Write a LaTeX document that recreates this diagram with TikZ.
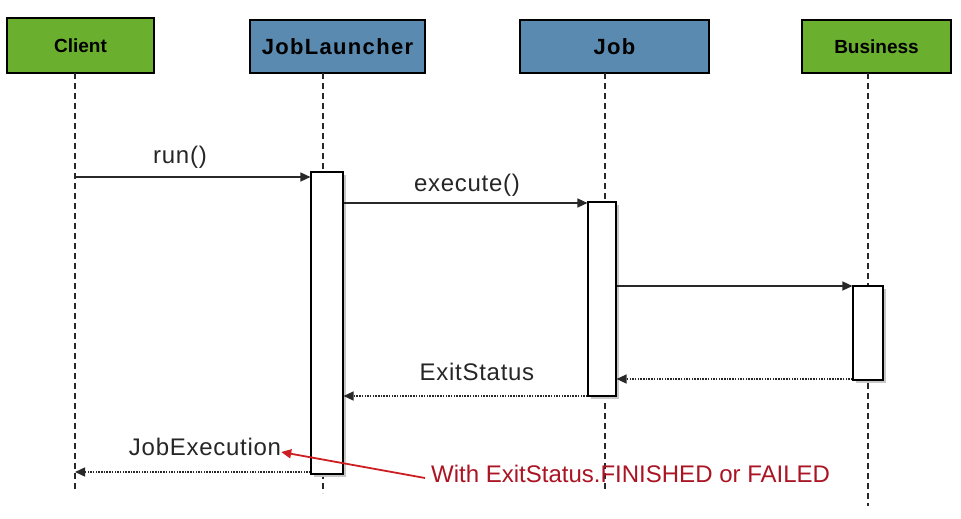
\documentclass[tikz,border=0pt]{standalone}
\usepackage{fontspec}
\setmainfont{Liberation Sans}
\usetikzlibrary{arrows.meta}
\definecolor{hgreen}{RGB}{106,176,46}
\definecolor{hblue}{RGB}{90,138,176}
\definecolor{ared}{RGB}{205,30,35}
\definecolor{tred}{RGB}{170,20,35}
\definecolor{lgray}{RGB}{40,40,40}
\begin{document}
\begin{tikzpicture}[x=1pt,y=-1pt,
  head/.style={draw=black,line width=1.2pt,inner sep=0pt,font=\fontsize{19}{22}\selectfont\bfseries},
  headwide/.style={head,font=\fontsize{22}{24}\selectfont\bfseries\addfontfeature{LetterSpace=6}},
  life/.style={draw=lgray,line width=1.3pt,dash pattern=on 6pt off 4pt},
  bar/.style={draw=black,fill=white,line width=1.1pt,inner sep=0pt},
  shadow/.style={fill=black!22,draw=none,inner sep=0pt},
  msg/.style={draw=lgray,line width=1.4pt,-{Triangle[length=10pt,width=9pt]}},
  ret/.style={draw=lgray,line width=1.4pt,dash pattern=on 1.5pt off 1.2pt,-{Triangle[length=10pt,width=9pt]}},
  lbl/.style={font=\fontsize{24}{26}\selectfont\addfontfeature{LetterSpace=3},inner sep=0pt,text=black!85}
]
\useasboundingbox (0,0) rectangle (961,519);

% headers
\node[head,fill=hgreen,minimum width=147pt,minimum height=55pt] (client) at (80.5,45.5) {Client};
\node[headwide,fill=hblue,minimum width=175pt,minimum height=53pt] (launcher) at (337.5,46.5) {JobLauncher};
\node[headwide,fill=hblue,minimum width=189pt,minimum height=53pt] (job) at (614.5,46.5) {Job};
\node[head,fill=hgreen,minimum width=149pt,minimum height=53pt] (business) at (876.5,46.5) {Business};

% lifelines
\coordinate (clTop) at (75,73);   \coordinate (clBot) at (75,492);
\coordinate (jlTop) at (323,73);  \coordinate (jlBot) at (323,493);
\coordinate (jbTop) at (605,73);  \coordinate (jbBot) at (605,492);
\coordinate (bsTop) at (868,73);  \coordinate (bsBot) at (868,506);
\draw[life] (clTop) -- (clBot);
\draw[life] (jlTop) -- (jlBot);
\draw[life] (jbTop) -- (jbBot);
\draw[life] (bsTop) -- (bsBot);

% activation bars (with light shadow)
\node[shadow,minimum width=32pt,minimum height=302pt] (jlsh) at (330,326) {};
\node[bar,minimum width=32pt,minimum height=302pt] (jlbar) at (327,323) {};
\node[shadow,minimum width=28pt,minimum height=194pt] (jbsh) at (605,302) {};
\node[bar,minimum width=28pt,minimum height=194pt] (jbbar) at (602,299) {};
\node[shadow,minimum width=30pt,minimum height=94pt] (bssh) at (871,336) {};
\node[bar,minimum width=30pt,minimum height=94pt] (bsbar) at (868,333) {};

% messages
\coordinate (m1) at (75,177);
\draw[msg] (m1) -- (jlbar.west |- m1);
\node[lbl] (runl) at (180,157) {run()};

\coordinate (m2) at (343,203);
\draw[msg] (jlbar.east |- m2) -- (jbbar.west |- m2);
\node[lbl] (execl) at (467,185) {execute()};

\coordinate (m3) at (616,286);
\draw[msg] (jbbar.east |- m3) -- (bsbar.west |- m3);

\coordinate (m4) at (616,379);
\draw[ret] (bsbar.west |- m4) -- (jbbar.east |- m4);

\coordinate (m5) at (343,396);
\draw[ret] (jbbar.west |- m5) -- (jlbar.east |- m5);
\node[lbl] (exitl) at (477,372) {ExitStatus};

\coordinate (m6) at (75,472);
\draw[ret] (jlbar.west |- m6) -- (m6);
\node[lbl] (jobexl) at (205,447) {JobExecution};

% annotation
\node[font=\fontsize{24}{26}\selectfont,text=tred,inner sep=0pt,anchor=west] (note) at (431,474) {With ExitStatus.FINISHED or FAILED};
\coordinate (noteTail) at (425,478);
\draw[ared,line width=1.8pt,-{Triangle[length=10pt,width=9pt]}] (noteTail) -- (jobexl.east |- 0,452);
\end{tikzpicture}
\end{document}
